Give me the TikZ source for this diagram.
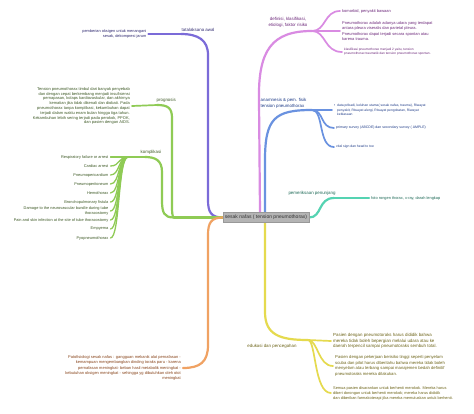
\documentclass[tikz,border=0pt]{standalone}
\usepackage{fontspec}
\setmainfont{Liberation Sans}
\pgfdeclarelayer{bg}
\pgfsetlayers{bg,main}
\definecolor{cPur}{HTML}{7B6BD8}
\definecolor{cPurT}{HTML}{2E2870}
\definecolor{cPnk}{HTML}{D98BE2}
\definecolor{cPnkT}{HTML}{6E2A7C}
\definecolor{cBlu}{HTML}{6A92E0}
\definecolor{cBluT}{HTML}{1F3C88}
\definecolor{cTea}{HTML}{55D3B2}
\definecolor{cTeaT}{HTML}{1E6A57}
\definecolor{cGrn}{HTML}{8FCB55}
\definecolor{cGrnT}{HTML}{3E5A26}
\definecolor{cYel}{HTML}{E5DA4E}
\definecolor{cYelT}{HTML}{6D6418}
\definecolor{cOrn}{HTML}{F0A263}
\definecolor{cOrnT}{HTML}{874319}
\definecolor{cRoot}{HTML}{B4B4B4}
\newcommand\fsz[2]{\fontsize{#1}{#2}\selectfont}
\begin{document}
\begin{tikzpicture}[x=1pt,y=-1pt,
  txt/.style={inner ysep=0.5pt, inner xsep=2pt},
  lbl/.style={inner sep=0.5pt, font=\fsz{4.4}{5.5}},
  brMain/.style={line width=2.2pt, line cap=round},
  brSub/.style={line width=1.7pt, line cap=round},
  brThin/.style={line width=1.3pt, line cap=round}]
\begin{pgfonlayer}{bg}
\fill[white] (0,0) rectangle (474,413);
\end{pgfonlayer}
\useasboundingbox (0,0) rectangle (474,413);

% root
\node[fill=cRoot, draw=cRoot!85!black, line width=0.3pt, inner xsep=2pt, inner ysep=1pt,
  minimum height=10pt, font=\fsz{5}{5.8}, text=black!80] (root) at (266,217.5)
  {sesak nafas ( tension pneumothorax)};

% branch points
\coordinate (tB) at (181,34);
\coordinate (gB) at (174,217.5);
\coordinate (pB) at (157,105);
\coordinate (kL) at (145,157);
\coordinate (kB) at (128,157);
\coordinate (dB) at (312,31);
\coordinate (aB) at (312,110);
\coordinate (teB) at (334,198);
\coordinate (yB) at (308,340);

% labels
\node[lbl, text=cPurT, anchor=south west] (tLbl) at (181,32.5) {tatalaksana awal};
\node[lbl, text=cPnkT, align=center] (dLbl) at (288,22.5) {definisi, klasifikasi,\\etiologi, faktor risiko};
\node[lbl, text=cBluT, align=left, anchor=south west] (aLbl) at (260,109) {anamnesis \& pem. fisik\\tension pneumothorax};
\node[lbl, text=cTeaT, anchor=south] (teLbl) at (312,196.5) {pemeriksaan penunjang};
\node[lbl, text=cGrnT, anchor=south west] (pLbl) at (156,103) {prognosis};
\node[lbl, text=cGrnT, anchor=south west] (kLbl) at (140,155.5) {komplikasi};
\node[lbl, text=cYelT, anchor=north] (eLbl) at (272,343.5) {edukasi dan pencegahan};

% leaves
\node[txt, text=cPurT, align=right, anchor=east, font=\fsz{3.9}{5.2}] (tleaf) at (148.5,34)
  {pemberian oksigen untuk menangani\\sesak, dekompresi jarum};

\node[txt, text=cGrnT, align=right, anchor=east, font=\fsz{4}{4.8}] (pleaf) at (132,106)
  {Tension pneumothorax timbul dari banyak penyebab\\
   dan dengan cepat berkembang menjadi insufisiensi\\
   pernapasan, kolaps kardiovaskular, dan akhirnya\\
   kematian jika tidak dikenali dan diobati. Pada\\
   pneumothorax tanpa komplikasi, kekambuhan dapat\\
   terjadi dalam waktu enam bulan hingga tiga tahun.\\
   Kekambuhan lebih sering terjadi pada perokok, PPOK,\\
   dan pasien dengan AIDS.};

\foreach \i/\yy/\tx in {
  1/157/{Respiratory failure or arrest},
  2/166/{Cardiac arrest},
  3/175/{Pneumopericardium},
  4/184/{Pneumoperitoneum},
  5/193/{Hemothorax},
  6/202/{Bronchopulmonary fistula},
  7/211/{Damage to the neurovascular bundle during tube\\thoracostomy},
  8/220/{Pain and skin infection at the site of tube thoracostomy},
  9/229/{Empyema},
  10/238/{Pyopneumothorax}}{
  \node[txt, text=cGrnT, align=right, anchor=east, font=\fsz{3.9}{4.8}] (k\i) at (110.5,\yy) {\tx};
}

\node[txt, text=cOrnT, align=right, anchor=east, font=\fsz{4}{5.1}] (pf) at (183,368)
  {Patofisiologi sesak nafas : gangguan mekanik alat pernafasan -\\
   kemampuan mengembangkan dinding toraks paru - karena\\
   pernafasan meningkat- beban hasil metabolik meningkat -\\
   kebutuhan oksigen meningkat - sehingga yg dibutuhkan oleh otot\\
   meningkat};

\node[txt, text=cPnkT, anchor=west, font=\fsz{4}{5.3}] (d1) at (340,11) {komorbid, penyakit bawaan};
\node[txt, text=cPnkT, align=left, anchor=west, font=\fsz{4}{5.4}] (d2) at (340,31)
  {Pneumothorax adalah adanya udara yang terdapat\\
   antara pleura viseralis dan parietal pleura.\\
   Pneumothorax dapat terjadi secara spontan atau\\
   karena trauma.};
\node[txt, text=cPnkT, align=left, anchor=west, font=\fsz{3.2}{4.2}] (d3) at (342,52)
  {klasifikasi pneumothorax menjadi 2 yaitu, tension\\
   pneumothorax traumatik dan tension pneumothorax spontan.};

\node[txt, text=cBluT, align=left, anchor=west, font=\fsz{3.35}{4.6}] (a1) at (332,110)
  {\textbullet\ \ data pribadi, keluhan utama( sesak nafas, trauma), Riwayat\\
   \phantom{\textbullet\ \ }penyakit, Riwayat alergi, Riwayat pengobatan, Riwayat\\
   \phantom{\textbullet\ \ }kebiasaan};
\node[txt, text=cBluT, anchor=west, font=\fsz{3.5}{4.6}] (a2) at (334,128)
  {primary survey (ABCDE) dan secondary survey ( AMPLE)};
\node[txt, text=cBluT, anchor=west, font=\fsz{3.4}{4.6}] (a3) at (334,147)
  {vital sign dan head to toe};

\node[txt, text=cTeaT, anchor=west, font=\fsz{3.9}{4.8}] (te) at (369,198)
  {foto rongen thorax, x-ray, darah lengkap};

\node[txt, text=cYelT, align=left, anchor=west, font=\fsz{4.4}{5.8}] (e1) at (331,341)
  {Pasien dengan pneumotoraks harus dididik bahwa\\
   mereka tidak boleh bepergian melalui udara atau ke\\
   daerah terpencil sampai pneumotoraks sembuh total.};
\node[txt, text=cYelT, align=left, anchor=west, font=\fsz{4.2}{5.6}] (e2) at (333,366)
  {Pasien dengan pekerjaan berisiko tinggi seperti penyelam\\
   scuba dan pilot harus diberitahu bahwa mereka tidak boleh\\
   menyelam atau terbang sampai manajemen bedah definitif\\
   pneumotoraks mereka dilakukan.};
\node[txt, text=cYelT, align=left, anchor=west, font=\fsz{3.9}{5}] (e3) at (331,393)
  {Semua pasien disarankan untuk berhenti merokok. Mereka harus\\
   diberi dorongan untuk berhenti merokok; mereka harus dididik\\
   dan diberikan farmakoterapi jika mereka memutuskan untuk berhenti.};

\begin{pgfonlayer}{bg}
% purple
\draw[brMain, cPur] (root.west) .. controls (211,217.5) and (208,212) .. (208,200)
   -- (208,55) .. controls (208,40) and (198,34) .. (tB);
\draw[brMain, cPur] (tB) -- (tleaf.east);
% green
\draw[brMain, cGrn] (root.west) -- (gB);
\draw[brMain, cGrn] (gB) .. controls (172,217.5) and (172,212) .. (172,200)
   -- (172,118) .. controls (172,108) and (168,105) .. (pB);
\draw[brSub, cGrn] (pB) -- (pleaf.east);
\draw[brMain, cGrn] (gB) .. controls (164,217.5) and (162,213) .. (162,200)
   -- (162,172) .. controls (162,160) and (155,157) .. (kL);
\draw[brSub, cGrn] (kL) -- (kB);
\foreach \i/\yy in {1/157,2/166,3/175,4/184,5/193,6/202,7/211,8/220,9/229,10/238}{
  \draw[brThin, cGrn] (kB) .. controls (118,157) and (120,\yy) .. (k\i.east);
}
% orange
\draw[brMain, cOrn] (root.west) .. controls (211,217.5) and (208,223) .. (208,235)
   -- (208,345) .. controls (208,362) and (200,368) .. (pf.east);
% pink
\draw[brMain, cPnk] ([xshift=-6pt]root.north) -- (259,100)
   .. controls (258,50) and (272,31) .. (dB);
\draw[brSub, cPnk] (dB) .. controls (326,31) and (324,11) .. (d1.west);
\draw[brSub, cPnk] (dB) -- (d2.west);
\draw[brSub, cPnk] (dB) .. controls (326,31) and (324,52) .. (d3.west);
% blue
\draw[brMain, cBlu] ([xshift=-1pt]root.north) -- (265,160)
   .. controls (265,118) and (275,110) .. (aB);
\draw[brSub, cBlu] (aB) -- (a1.west);
\draw[brSub, cBlu] (aB) .. controls (324,110) and (320,128) .. (a2.west);
\draw[brSub, cBlu] (aB) .. controls (324,110) and (318,147) .. (a3.west);
% teal
\draw[brMain, cTea] (root.east) .. controls (322,217.5) and (318,198) .. (teB);
\draw[brMain, cTea] (teB) -- (te.west);
% yellow
\draw[brMain, cYel] ([xshift=-1pt]root.south) -- (265,312)
   .. controls (265,335) and (280,340) .. (yB);
\draw[brSub, cYel] (yB) -- (e1.west);
\draw[brSub, cYel] (yB) .. controls (318,340) and (318,366) .. (e2.west);
\draw[brSub, cYel] (yB) .. controls (316,340) and (314,393) .. (e3.west);
\end{pgfonlayer}
\end{tikzpicture}
\end{document}
